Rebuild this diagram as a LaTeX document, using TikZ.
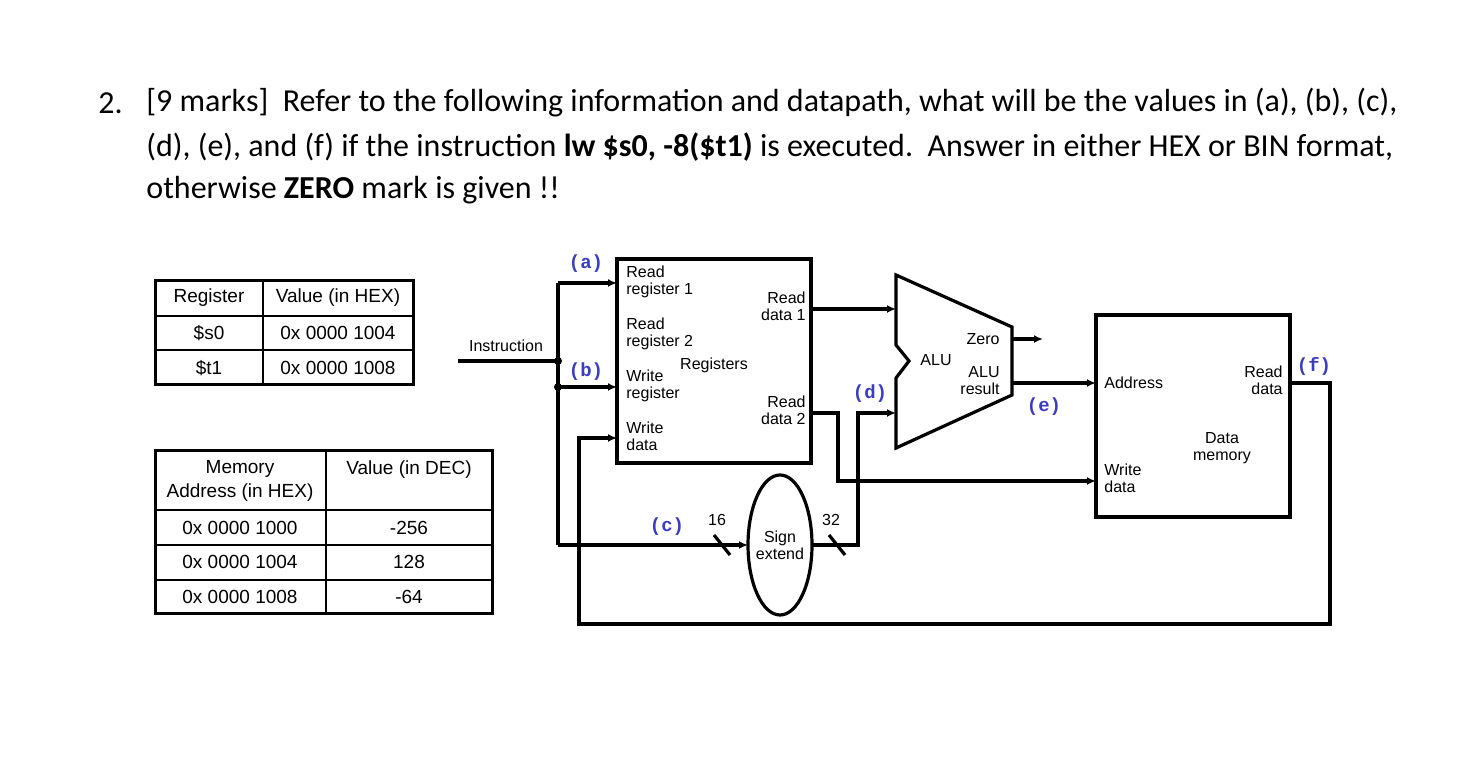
\documentclass[tikz,border=0pt]{standalone}
\usepackage{fontspec}
\setmainfont{Carlito}
\newfontfamily\arial{Liberation Sans}
\newfontfamily\cour{Liberation Mono}
\usetikzlibrary{arrows.meta}
\definecolor{lab}{RGB}{60,60,190}
\begin{document}
\begin{tikzpicture}[x=0.5pt,y=-0.5pt,
  w/.style={line width=1.6pt},
  a/.style={w,-{Latex[length=4.5pt,width=4pt]}},
  t/.style={font=\arial\fontsize{8}{8.5}\selectfont,inner sep=0pt,align=left},
  tr/.style={t,align=right},
  tab/.style={font=\arial\fontsize{9.5}{11}\selectfont,inner sep=0pt,align=center},
  lb/.style={font=\cour\bfseries\fontsize{9.5}{10}\selectfont,text=lab,inner sep=0pt},
  h/.style={font=\fontsize{16}{18}\selectfont,inner sep=0pt,anchor=west}]
\useasboundingbox (0,0) rectangle (1471,779);
% title
\node[h] (n2) at (98,103) {2.};
\node[h] (l1) at (146,103) {[9 marks]\ \ Refer to the following information and datapath, what will be the values in (a), (b), (c),};
\node[h] (l2) at (146,147) {(d), (e), and (f) if the instruction \textbf{lw \$s0, -8(\$t1)} is executed.\ \ Answer in either HEX or BIN format,};
\node[h] (l3) at (146,190) {otherwise \textbf{ZERO} mark is given !!};
% register table
\draw[line width=1.5pt] (155,281) rectangle (413,385);
\foreach \y in {316,350} \draw[line width=1.2pt] (155,\y) -- (413,\y);
\draw[line width=1.2pt] (263,281) -- (263,385);
\node[tab] (r11) at (209,298) {Register};
\node[tab] (r12) at (338,298) {Value (in HEX)};
\node[tab] (r21) at (209,333) {\$s0};
\node[tab] (r22) at (338,333) {0x 0000 1004};
\node[tab] (r31) at (209,368) {\$t1};
\node[tab] (r32) at (338,368) {0x 0000 1008};
% memory table
\draw[line width=1.5pt] (155,451) rectangle (492,614);
\foreach \y in {510,545,580} \draw[line width=1.2pt] (155,\y) -- (492,\y);
\draw[line width=1.2pt] (326,451) -- (326,614);
\node[tab,font=\arial\fontsize{9.5}{12}\selectfont] (m11) at (240,481) {Memory\\Address (in HEX)};
\node[tab] (m12) at (409,470) {Value (in DEC)};
\node[tab] (m21) at (240,528) {0x 0000 1000};
\node[tab] (m22) at (409,528) {-256};
\node[tab] (m31) at (240,562) {0x 0000 1004};
\node[tab] (m32) at (409,562) {128};
\node[tab] (m41) at (240,597) {0x 0000 1008};
\node[tab] (m42) at (409,597) {-64};
% register file
\draw[w] (617,259) rectangle (811,463);
\coordinate (rr1) at (617,283);
\coordinate (wr) at (617,387);
\coordinate (wd) at (617,438);
\coordinate (rd1) at (811,309);
\coordinate (rd2) at (811,413);
\node[t,anchor=north west] (trr1) at (626,266) {Read\\register 1};
\node[t,anchor=north west] (trr2) at (626,318) {Read\\register 2};
\node[t,anchor=north west] (twr) at (626,370) {Write\\register};
\node[t,anchor=north west] (twd) at (626,422) {Write\\data};
\node[tr,anchor=north east] (trd1) at (806,292) {Read\\data 1};
\node[tr,anchor=north east] (trd2) at (806,396) {Read\\data 2};
\node[t] (treg) at (714,365) {Registers};
% ALU
\draw[w] (896,275) -- (1012,327) -- (1012,395) -- (896,448) -- (896,378) -- (909,361) -- (896,345) -- cycle;
\coordinate (alua) at (896,309);
\coordinate (alub) at (896,413);
\coordinate (zero) at (1012,339);
\coordinate (zeroe) at (1043,339);
\coordinate (res) at (1012,383);
\node[t] (talu) at (936,360) {ALU};
\node[tr,anchor=east] (tzero) at (1000,339) {Zero};
\node[tr,anchor=north east] (tres) at (1000,366) {ALU\\result};
% data memory
\draw[w] (1096,315) rectangle (1290,517);
\coordinate (addr) at (1096,383);
\coordinate (dwd) at (1096,481);
\coordinate (drd) at (1290,383);
\node[t,anchor=west] (taddr) at (1104,383) {Address};
\node[t,anchor=north west] (tdwd) at (1104,464) {Write\\data};
\node[tr,anchor=north east] (tdrd) at (1283,366) {Read\\data};
\node[t,align=center] (tdm) at (1222,448) {Data\\memory};
% sign extend
\draw[w] (780,545) ellipse[x radius=32,y radius=70];
\node[t,align=center] (tse) at (780,545) {Sign\\extend};
\coordinate (sel) at (748,545);
\coordinate (ser) at (812,545);
% instruction wires
\coordinate (ins) at (458,361);
\coordinate (j1) at (558,361);
\coordinate (j2) at (558,387);
\node[t] (tins) at (506,346) {Instruction};
\draw[w] (ins) -- (j1);
\draw[w] (558,283) -- (558,545);
\fill (j1) circle (4);
\fill (j2) circle (4);
\draw[a] (558,283) -- (rr1);
\draw[a] (j2) -- (wr);
\draw[a] (558,545) -- (sel);
\draw[w] (714,535) -- (730,555);
\draw[w] (829,535) -- (845,555);
\node[t] (t16) at (717,520) {16};
\node[t] (t32) at (831,520) {32};
\draw[a] (ser) -- (858,545) -- (858,413) -- (alub);
\draw[a] (rd1) -- (alua);
\draw[a] (rd2) -- (838,413) -- (838,481) -- (dwd);
\draw[a] (zero) -- (zeroe);
\draw[a] (res) -- (addr);
\draw[a] (drd) -- (1330,383) -- (1330,624) -- (579,624) -- (579,438) -- (wd);
% labels
\node[lb] (la) at (586,264) {(a)};
\node[lb] (lbb) at (586,372) {(b)};
\node[lb] (lc) at (667,527) {(c)};
\node[lb] (ld) at (870,394) {(d)};
\node[lb] (le) at (1044,407) {(e)};
\node[lb] (lf) at (1314,366) {(f)};
\end{tikzpicture}
\end{document}
